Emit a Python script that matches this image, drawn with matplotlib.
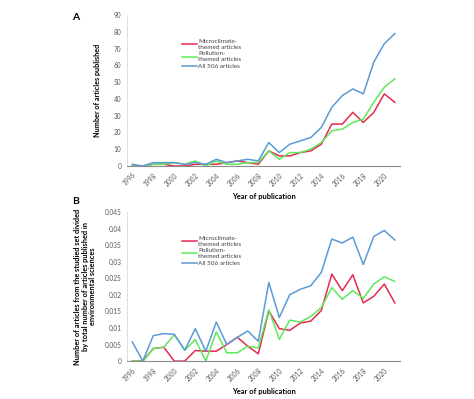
import numpy as np
import matplotlib
matplotlib.use("Agg")
import matplotlib.pyplot as plt

plt.rcParams['font.family'] = ['Lato', 'DejaVu Sans']

years = list(range(1996, 2022))
tick_years = list(range(1996, 2021, 2))

# Panel A: number of articles published
micro_a = [0, 0, 1, 1, 0, 0, 1, 1, 1, 2, 3, 2, 1, 9, 6, 6, 8, 9, 13, 25, 25, 32, 26, 32, 43, 38]
pollu_a = [0, 0, 1, 1, 2, 1, 3, 0, 3, 1, 1, 2, 2, 9, 4, 8, 8, 10, 14, 21, 22, 26, 28, 38, 47, 52]
all_a = [1, 0, 2, 2, 2, 1, 2, 1, 4, 2, 3, 4, 3, 14, 8, 13, 15, 17, 23, 35, 42, 46, 43, 62, 73, 79]

# Panel B: normalised by environmental sciences output
micro_b = [0, 0, 0.0038, 0.0042, 0, 0, 0.0032, 0.003, 0.003, 0.005, 0.0072, 0.0045, 0.0022,
           0.0152, 0.0098, 0.0093, 0.0115, 0.0121, 0.0153, 0.0263, 0.0213, 0.0261, 0.0176,
           0.0196, 0.0233, 0.0176]
pollu_b = [0, 0, 0.0038, 0.0042, 0.008, 0.0033, 0.0065, 0, 0.0088, 0.0025, 0.0025, 0.0045,
           0.004, 0.0155, 0.0066, 0.0124, 0.0118, 0.0135, 0.0162, 0.0222, 0.0187, 0.0213,
           0.019, 0.0233, 0.0255, 0.0241]
all_b = [0.0058, 0, 0.0077, 0.0083, 0.0081, 0.0033, 0.0098, 0.003, 0.0118, 0.005, 0.0072,
         0.0091, 0.006, 0.0238, 0.0132, 0.0201, 0.0217, 0.0228, 0.0268, 0.0369, 0.0357,
         0.0375, 0.0292, 0.0377, 0.0395, 0.0366]

labels = ["Microclimate-\nthemed articles", "Pollution-\nthemed articles", "All 506 articles"]
colors = ["#e8294f", "#5ee85a", "#5b9bd5"]

fig = plt.figure(figsize=(4.74, 3.99), dpi=100)
ax_a = fig.add_axes([0.268, 0.584, 0.576, 0.378])
ax_b = fig.add_axes([0.268, 0.095, 0.576, 0.373])


def style(ax, series, ymax, ystep, fmt, ylabel, ylsize, ylpad):
    for s, lab, c in zip(series, labels, colors):
        ax.plot(years, s, color=c, lw=1.1, label=lab)
    ax.set_xlim(1995.5, 2021.5)
    ax.set_ylim(0, ymax)
    ax.set_yticks(np.arange(0, ymax + ystep / 2, ystep))
    ax.set_yticklabels([fmt(v) for v in np.arange(0, ymax + ystep / 2, ystep)])
    ax.set_xticks(tick_years)
    ax.set_xticklabels([str(y) for y in tick_years], rotation=45, ha="right",
                       rotation_mode="anchor")
    ax.tick_params(length=0, labelsize=4.7, colors="#595959", pad=4)
    for side in ["top", "right"]:
        ax.spines[side].set_visible(False)
    ax.spines["left"].set_color("#d9d9d9")
    ax.spines["left"].set_linewidth(0.6)
    ax.spines["bottom"].set_color("#8c8c8c")
    ax.spines["bottom"].set_linewidth(0.8)
    ax.set_xlabel("Year of publication", fontsize=5.4, fontweight="bold", labelpad=4)
    ax.set_ylabel(ylabel, fontsize=ylsize, fontweight="bold", linespacing=1.1,
                  labelpad=ylpad)
    ax.legend(loc="upper left", bbox_to_anchor=(0.18, 0.88), frameon=False,
              fontsize=4.6, handlelength=2.3, handletextpad=0.2, labelspacing=0.25,
              labelcolor="#404040")


style(ax_a, [micro_a, pollu_a, all_a], 90, 10, lambda v: f"{v:g}",
      "Number of articles published", 5.2, 9)
style(ax_b, [micro_b, pollu_b, all_b], 0.045, 0.005, lambda v: f"{v:g}" if v else "0",
      "Number of articles from the studied set divided\nby total number of articles published in\nenvironmental sciences",
      5.3, 6)

fig.text(0.153, 0.955, "A", fontsize=7.5, fontweight="bold", va="center")
fig.text(0.153, 0.495, "B", fontsize=7.5, fontweight="bold", va="center")

fig.savefig("out.png", dpi=100)
